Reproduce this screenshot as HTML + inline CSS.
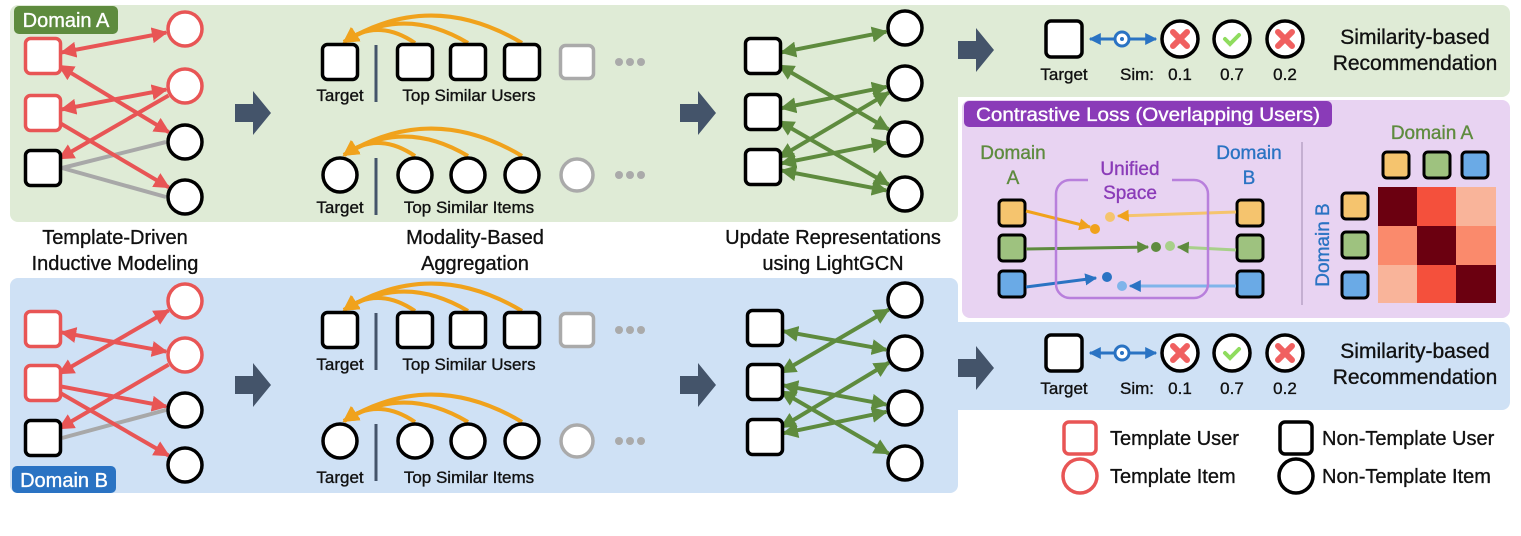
<!DOCTYPE html>
<html><head><meta charset="utf-8"><style>
html,body{margin:0;padding:0;background:#fff;}
svg{display:block;font-family:"Liberation Sans","DejaVu Sans",sans-serif;}
text{fill:#111;stroke:#111;stroke-width:0.35px;}
</style></head><body>
<svg id="s" width="1521" height="536" viewBox="0 0 1521 536" xmlns="http://www.w3.org/2000/svg">
<defs>
<marker id="mr" viewBox="0 0 10 10" refX="9" refY="5" markerWidth="4" markerHeight="4" orient="auto-start-reverse"><path d="M0,0L10,5L0,10z" fill="#e85555"/></marker>
<marker id="mg" viewBox="0 0 10 10" refX="9" refY="5" markerWidth="4" markerHeight="4" orient="auto-start-reverse"><path d="M0,0L10,5L0,10z" fill="#5e8b3e"/></marker>
<marker id="mo" viewBox="0 0 10 10" refX="9" refY="5" markerWidth="4" markerHeight="4" orient="auto-start-reverse"><path d="M0,0L10,5L0,10z" fill="#f0a21c"/></marker>
<marker id="mb" viewBox="0 0 10 10" refX="9" refY="5" markerWidth="4" markerHeight="4" orient="auto-start-reverse"><path d="M0,0L10,5L0,10z" fill="#2a73c3"/></marker>
</defs>
<path d="M18,5 H1502 a8,8 0 0 1 8,8 V89 a8,8 0 0 1 -8,8 H958 V214 a8,8 0 0 1 -8,8 H18 a8,8 0 0 1 -8,-8 V13 a8,8 0 0 1 8,-8z" fill="#dfebd6"/>
<path d="M18,278 H950 a8,8 0 0 1 8,8 V322 H1502 a8,8 0 0 1 8,8 V402 a8,8 0 0 1 -8,8 H958 V485 a8,8 0 0 1 -8,8 H18 a8,8 0 0 1 -8,-8 V286 a8,8 0 0 1 8,-8z" fill="#cfe1f5"/>
<rect x="962" y="100" width="548" height="218" rx="8" fill="#e8d3f2"/>
<g id="dyn"></g>
<rect x="14" y="6" width="104" height="28" rx="5" fill="#5e8b3e"/>
<text x="66" y="27" text-anchor="middle" font-size="20" style="fill:#fff;stroke:#fff">Domain A</text>
<rect x="12" y="466" width="104" height="27" rx="5" fill="#2a73c3"/>
<text x="64" y="487" text-anchor="middle" font-size="20" style="fill:#fff;stroke:#fff">Domain B</text>
<g font-size="20" text-anchor="middle">
<text x="115" y="244">Template-Driven</text>
<text x="115" y="270">Inductive Modeling</text>
<text x="475" y="244">Modality-Based</text>
<text x="475" y="270">Aggregation</text>
<text x="833" y="244">Update Representations</text>
<text x="833" y="270">using LightGCN</text>
</g>
<g font-size="21" text-anchor="middle">
<text x="1415" y="44">Similarity-based</text>
<text x="1415" y="70">Recommendation</text>
<text x="1415" y="358">Similarity-based</text>
<text x="1415" y="384">Recommendation</text>
</g>
<g font-size="17" text-anchor="middle">
<text x="340" y="101">Target</text><text x="469" y="101">Top Similar Users</text>
<text x="340" y="213">Target</text><text x="469" y="213">Top Similar Items</text>
<text x="340" y="370">Target</text><text x="469" y="370">Top Similar Users</text>
<text x="340" y="483">Target</text><text x="469" y="483">Top Similar Items</text>
<text x="1064" y="80">Target</text><text x="1137" y="80">Sim:</text><text x="1180" y="80">0.1</text><text x="1232" y="80">0.7</text><text x="1285" y="80">0.2</text>
<text x="1064" y="394">Target</text><text x="1137" y="394">Sim:</text><text x="1180" y="394">0.1</text><text x="1232" y="394">0.7</text><text x="1285" y="394">0.2</text>
</g>
<g font-size="20">
<text x="1110" y="445">Template User</text>
<text x="1110" y="483">Template Item</text>
<text x="1322" y="445">Non-Template User</text>
<text x="1322" y="483">Non-Template Item</text>
</g>
<rect x="964" y="101" width="368" height="26" rx="5" fill="#8a3bb8"/>
<text x="1148" y="121" text-anchor="middle" font-size="19" style="fill:#fff;stroke:#fff" textLength="344" lengthAdjust="spacingAndGlyphs">Contrastive Loss (Overlapping Users)</text>
<g font-size="19" text-anchor="middle">
<text x="1013" y="159" style="fill:#5e8b3e;stroke:#5e8b3e">Domain</text><text x="1013" y="184" style="fill:#5e8b3e;stroke:#5e8b3e">A</text>
<text x="1249" y="159" style="fill:#2a73c3;stroke:#2a73c3">Domain</text><text x="1249" y="184" style="fill:#2a73c3;stroke:#2a73c3">B</text>
<text x="1130" y="175" style="fill:#8a3bb8;stroke:#8a3bb8">Unified</text><text x="1130" y="199" style="fill:#8a3bb8;stroke:#8a3bb8">Space</text>
<text x="1432" y="139" style="fill:#5e8b3e;stroke:#5e8b3e">Domain A</text>
<text x="0" y="0" transform="translate(1329,245) rotate(-90)" style="fill:#2a73c3;stroke:#2a73c3">Domain B</text>
</g>
<path d="M1088,180 H1070 a14,14 0 0 0 -14,14 V284 a14,14 0 0 0 14,14 H1194 a14,14 0 0 0 14,-14 V194 a14,14 0 0 0 -14,-14 H1172" fill="none" stroke="#b87fdc" stroke-width="2.5"/>
<line x1="1302" y1="142" x2="1302" y2="305" stroke="#b7a3c6" stroke-width="1.5"/>
<g>
<rect x="1378" y="187" width="39" height="39" fill="#6b0010"/><rect x="1417" y="187" width="39" height="39" fill="#f4503c"/><rect x="1456" y="187" width="40" height="39" fill="#f9b49a"/>
<rect x="1378" y="226" width="39" height="39" fill="#fa8a6c"/><rect x="1417" y="226" width="39" height="39" fill="#6b0010"/><rect x="1456" y="226" width="40" height="39" fill="#fa8a6c"/>
<rect x="1378" y="265" width="39" height="38" fill="#f9b49a"/><rect x="1417" y="265" width="39" height="38" fill="#f4503c"/><rect x="1456" y="265" width="40" height="38" fill="#6b0010"/>
</g>
</svg>
<script>
var g=document.getElementById('dyn'),NS='http://www.w3.org/2000/svg';
function el(t,a){var e=document.createElementNS(NS,t);for(var k in a)e.setAttribute(k,a[k]);g.appendChild(e);return e;}
function sq(x,y,s,c,w){el('rect',{x:x-s/2,y:y-s/2,width:s,height:s,rx:5,fill:'#fff',stroke:c,'stroke-width':w||3.5});}
function fsq(x,y,s,f){el('rect',{x:x-s/2,y:y-s/2,width:s,height:s,rx:4,fill:f,stroke:'#000','stroke-width':3});}
function ci(x,y,r,c,f){el('circle',{cx:x,cy:y,r:r,fill:f||'#fff',stroke:c,'stroke-width':3.5});}
function ln(x1,y1,x2,y2,c,m,s,w){var a={x1:x1,y1:y1,x2:x2,y2:y2,stroke:c,'stroke-width':w||4};if(m)a['marker-end']='url(#'+m+')';if(s)a['marker-start']='url(#'+m+')';el('line',a);}
function shorten(x1,y1,x2,y2,d1,d2){var dx=x2-x1,dy=y2-y1,L=Math.hypot(dx,dy);return [x1+dx*d1/L,y1+dy*d1/L,x2-dx*d2/L,y2-dy*d2/L];}
function edge(a,b,c,m,s1,e1){var p=shorten(a[0],a[1],b[0],b[1],19,19);var at={x1:p[0],y1:p[1],x2:p[2],y2:p[3],stroke:c,'stroke-width':4};if(e1)at['marker-end']='url(#'+m+')';if(s1)at['marker-start']='url(#'+m+')';el('line',at);}
function arrowBig(x,y){el('path',{d:'M'+x+','+(y-9)+'h18v-13l18,22l-18,22v-13h-18z',fill:'#44546a'});}
var RED='#e85555',GR='#5e8b3e';
(function(){
 var S=[[43,56],[43,113],[43,168]],C=[[185,29],[185,86],[185,142],[185,197]];
 el('line',{x1:62,y1:168,x2:166,y2:142,stroke:'#a8a8a8','stroke-width':4});
 el('line',{x1:62,y1:168,x2:166,y2:197,stroke:'#a8a8a8','stroke-width':4});
 edge(S[0],C[0],RED,'mr',1,1);edge(S[0],C[2],RED,'mr',1,1);edge(S[1],C[1],RED,'mr',1,1);edge(S[1],C[3],RED,'mr',0,1);edge(C[1],S[2],RED,'mr',0,1);
 S.forEach(function(p,i){sq(p[0],p[1],35,i<2?RED:'#000');});
 C.forEach(function(p,i){ci(p[0],p[1],17,i<2?RED:'#000');});
 S=[[43,329],[43,383],[43,438]];C=[[185,301],[185,355],[185,410],[185,465]];
 el('line',{x1:62,y1:438,x2:166,y2:410,stroke:'#a8a8a8','stroke-width':4});
 edge(S[0],C[1],RED,'mr',1,1);edge(S[1],C[0],RED,'mr',1,1);edge(S[1],C[2],RED,'mr',0,1);edge(S[1],C[3],RED,'mr',0,1);edge(C[1],S[2],RED,'mr',0,1);
 S.forEach(function(p,i){sq(p[0],p[1],35,i<2?RED:'#000');});
 C.forEach(function(p,i){ci(p[0],p[1],17,i<2?RED:'#000');});
 S=[[763,56],[763,112],[763,167]];C=[[905,28],[905,83],[905,139],[905,194]];
 [[0,0],[0,2],[1,1],[1,3],[2,1],[2,2],[2,3]].forEach(function(e){edge(S[e[0]],C[e[1]],GR,'mg',1,1);});
 S.forEach(function(p){sq(p[0],p[1],35,'#000');});C.forEach(function(p){ci(p[0],p[1],17,'#000');});
 S=[[765,328],[765,382],[765,437]];C=[[905,300],[905,353],[905,408],[905,463]];
 [[0,1],[1,0],[1,2],[1,3],[2,1],[2,2]].forEach(function(e){edge(S[e[0]],C[e[1]],GR,'mg',1,1);});
 S.forEach(function(p){sq(p[0],p[1],35,'#000');});C.forEach(function(p){ci(p[0],p[1],17,'#000');});
})();
arrowBig(235,113);arrowBig(680,113);arrowBig(235,385);arrowBig(680,385);arrowBig(958,50);arrowBig(958,368);
function row(y,isSq){
 var xs=[340,415,468,522];
 xs.slice(1).forEach(function(x,i){var h=[16,24,34][i];el('path',{d:'M'+x+','+(y-19)+' Q'+((x+340)/2)+','+(y-19-h*1.6)+' 344,'+(y-20),fill:'none',stroke:'#f0a21c','stroke-width':4,'marker-end':'url(#mo)'});});
 xs.forEach(function(x){isSq?sq(x,y,35,'#000'):ci(x,y,17,'#000');});
 isSq?sq(577,y,33,'#aaa'):ci(577,y,16,'#aaa');
 el('line',{x1:376,y1:y-17,x2:376,y2:y+40,stroke:'#44546a','stroke-width':3});
 [619,630,641].forEach(function(x){el('circle',{cx:x,cy:y,r:4,fill:'#aaa'});});
}
row(62,1);row(175,0);row(330,1);row(441,0);
function rec(y){
 sq(1064,y,36,'#000');
 ln(1090,y,1156,y,'#2a73c3','mb',1,3);
 el('circle',{cx:1122,cy:y,r:7,fill:'#fff',stroke:'#2a73c3','stroke-width':3});el('circle',{cx:1122,cy:y,r:2,fill:'#2a73c3'});
 [1180,1285].forEach(function(x){ci(x,y,18,'#000');el('path',{d:'M'+(x-7)+','+(y-7)+'L'+(x+7)+','+(y+7)+'M'+(x+7)+','+(y-7)+'L'+(x-7)+','+(y+7),stroke:'#f06060','stroke-width':6,'stroke-linecap':'round'});});
 ci(1232,y,18,'#000');el('path',{d:'M1225,'+y+'l5,5l9,-9',fill:'none',stroke:'#8fdc5e','stroke-width':4,'stroke-linecap':'round'});
}
rec(39);rec(353);
sq(1080,438,32,RED);ci(1080,476,17,RED);sq(1296,438,32,'#000');ci(1296,476,17,'#000');
var cols=['#f5c46e','#9ec27f','#6aaae6'];
[213,248,284].forEach(function(y,i){fsq(1012,y,26,cols[i]);fsq(1250,y,26,cols[i]);});
ln(1026,211,1090,227,'#f0a21c','mo',0,3);el('circle',{cx:1095,cy:229,r:5,fill:'#f0a21c'});
ln(1236,212,1118,216,'#f5c46e','mo',0,3);el('circle',{cx:1110,cy:217,r:5,fill:'#f5c46e'});
ln(1026,249,1148,247,'#5e8b3e','mg',0,3);el('circle',{cx:1156,cy:247,r:5,fill:'#5e8b3e'});
ln(1236,250,1178,247,'#a8d08a','mg',0,3);el('circle',{cx:1170,cy:246,r:5,fill:'#a8d08a'});
ln(1026,287,1096,278,'#2a73c3','mb',0,3);el('circle',{cx:1107,cy:277,r:5,fill:'#2a73c3'});
ln(1236,286,1130,286,'#7fb4ea','mb',0,3);el('circle',{cx:1122,cy:286,r:5,fill:'#7fb4ea'});
[1396,1437,1475].forEach(function(x,i){fsq(x,165,26,cols[i]);});
[206,245,285].forEach(function(y,i){fsq(1355,y,26,cols[i]);});
</script>
</body></html>
